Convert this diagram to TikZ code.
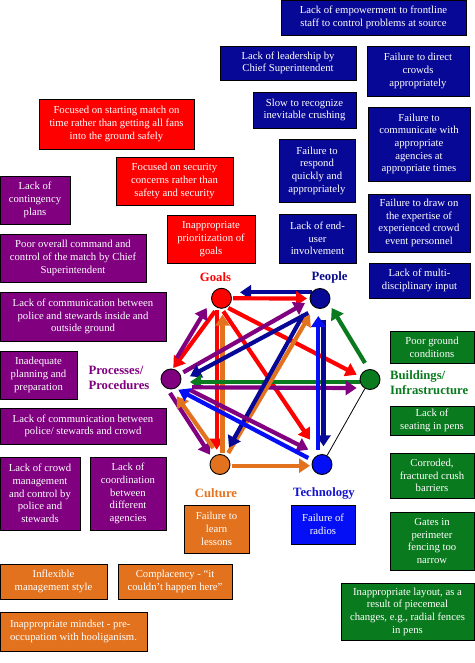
\documentclass[tikz,border=0pt]{standalone}
\usepackage{fontspec}
\setmainfont{Liberation Serif}
\usetikzlibrary{arrows.meta,backgrounds,shadows}
\definecolor{navyc}{RGB}{8,8,150}
\definecolor{redc}{RGB}{255,0,0}
\definecolor{purplec}{RGB}{128,0,128}
\definecolor{orangec}{RGB}{227,114,30}
\definecolor{greenc}{RGB}{10,122,30}
\definecolor{bluec}{RGB}{5,15,245}
\definecolor{peoplec}{RGB}{10,10,140}
\definecolor{techc}{RGB}{20,20,205}
\newcommand\bxnode[7]{\node[bx, fill=#2, minimum width=#5pt, minimum height=#6pt] (#1) at (#3,#4) {#7};}
\begin{document}
\begin{tikzpicture}[x=1pt,y=-1pt,
  bx/.style={draw=black, line width=0.9pt, text=white, align=center, inner sep=1pt,
    font=\fontsize{10.7}{12.7}\selectfont,
    general shadow={fill=black!75, shadow xshift=1.2pt, shadow yshift=-1.2pt}},
  circ/.style={circle, draw=black, line width=0.9pt, minimum size=20pt, inner sep=0pt},
  lab/.style={font=\fontsize{12.7}{15}\selectfont\bfseries, inner sep=0pt},
  ar/.style={line width=4.2pt, -{Triangle[length=11pt,width=14pt]}}]
\useasboundingbox (0,0) rectangle (474,663);

% ---------- navy boxes (People)
\bxnode{n1}{navyc}{373.5}{17.5}{185}{35}{Lack of empowerment to frontline\\staff to control problems at source}
\bxnode{n2}{navyc}{288}{63}{136}{34}{Lack of leadership by\\Chief Superintendent}
\bxnode{n3}{navyc}{418}{71}{102}{50}{Failure to direct\\crowds\\appropriately}
\bxnode{n4}{navyc}{304.5}{110}{103}{36}{Slow to recognize\\inevitable crushing}
\bxnode{n5}{navyc}{419}{144}{102}{74}{Failure to\\communicate with\\appropriate\\agencies at\\appropriate times}
\bxnode{n6}{navyc}{317}{170.5}{76}{63}{Failure to\\respond\\quickly and\\appropriately}
\bxnode{n7}{navyc}{317.5}{238.5}{77}{49}{Lack of end-\\user\\involvement}
\bxnode{n8}{navyc}{419}{223}{102}{58}{Failure to draw on\\the expertise of\\experienced crowd\\event personnel}
\bxnode{n9}{navyc}{419.5}{280.5}{101}{35}{Lack of multi-\\disciplinary input}

% ---------- red boxes (Goals)
\bxnode{r1}{redc}{116.5}{124}{155}{50}{Focused on starting match on\\time rather than getting all fans\\into the ground safely}
\bxnode{r2}{redc}{174.5}{181}{117}{48}{Focused on security\\concerns rather than\\safety and security}
\bxnode{r3}{redc}{211}{239}{88}{48}{Inappropriate\\prioritization of\\goals}

% ---------- purple boxes (Processes)
\bxnode{p1}{purplec}{35}{200}{70}{48}{Lack of\\contingency\\plans}
\bxnode{p2}{purplec}{73}{258}{146}{48}{Poor overall command and\\control of the match by Chief\\Superintendent}
\bxnode{p3}{purplec}{83}{316.5}{166}{49}{Lack of communication between\\police and stewards inside and\\outside ground}
\bxnode{p4}{purplec}{38.5}{375}{77}{48}{Inadequate\\planning and\\preparation}
\bxnode{p5}{purplec}{83}{426}{166}{36}{Lack of communication between\\police/ stewards and crowd}
\bxnode{p6}{purplec}{40}{493.5}{80}{73}{Lack of crowd\\management\\and control by\\police and\\stewards}
\bxnode{p7}{purplec}{128}{493.5}{76}{73}{Lack of\\coordination\\between\\different\\agencies}

% ---------- orange boxes (Culture)
\bxnode{o1}{orangec}{216.5}{529}{65}{48}{Failure to\\learn\\lessons}
\bxnode{o2}{orangec}{53.5}{581.5}{107}{35}{Inflexible\\management style}
\bxnode{o3}{orangec}{175}{581.5}{114}{35}{Complacency - “it\\couldn’t happen here”}
\node[bx, fill=orangec, minimum width=147pt, minimum height=39pt, align=left] (o4) at (73.5,631.5) {Inappropriate mindset - pre-\\occupation with hooliganism.};

% ---------- blue box (Technology)
\bxnode{b1}{bluec}{323}{524.5}{64}{39}{Failure of\\radios}

% ---------- green boxes (Buildings)
\bxnode{g1}{greenc}{432}{347}{84}{32}{Poor ground\\conditions}
\bxnode{g2}{greenc}{432}{420.5}{84}{29}{Lack of\\seating in pens}
\bxnode{g3}{greenc}{432}{475.5}{84}{45}{Corroded,\\fractured crush\\barriers}
\bxnode{g4}{greenc}{432}{541}{84}{58}{Gates in\\perimeter\\fencing too\\narrow}
\bxnode{g5}{greenc}{407.5}{611.5}{133}{57}{Inappropriate layout, as a\\result of piecemeal\\changes, e.g., radial fences\\in pens}

% ---------- category circles
\node[circ, fill=redc] (G) at (221.5,298.3) {};
\node[circ, fill=navyc] (Pe) at (320,298.5) {};
\node[circ, fill=purplec] (Pr) at (171,379) {};
\node[circ, fill=greenc] (B) at (370,379.5) {};
\node[circ, fill=orangec] (C) at (220,464.5) {};
\node[circ, fill=bluec] (T) at (322,464.5) {};

% ---------- category labels
\node[lab, text=redc] (lg) at (215.5,277) {Goals};
\node[lab, text=peoplec] (lpe) at (329.5,277) {People};
\node[lab, text=purplec, align=left, anchor=west] (lpr) at (88.3,378) {Processes/\\Procedures};
\node[lab, text=greenc, align=left, anchor=west] (lb) at (390,383) {Buildings/\\Infrastructure};
\node[lab, text=orangec] (lc) at (216,493) {Culture};
\node[lab, text=techc] (lt) at (324,493) {Technology};

% ---------- connectors
\begin{scope}[on background layer]
\draw[line width=0.8pt, black] (B) -- (T);
\draw[ar,navyc]   ([shift={(-8,-6.2)}]Pe.center) -- ([shift={(18.5,-6)}]G.center);
\draw[ar,redc]    ([shift={(11.5,0)}]G.center) -- ([shift={(-13,0)}]Pe.center);
\draw[ar,redc]    ([shift={(-6.5,13)}]G.center) -- ([shift={(2.3,-11)}]Pr.center);
\draw[ar,purplec] ([shift={(5.7,-21)}]Pr.center) -- ([shift={(-14.8,9.7)}]G.center);
\draw[ar,redc]    ([shift={(-4.8,11.4)}]G.center) -- ([shift={(-3.3,-14.8)}]C.center);
\draw[ar,orangec] ([shift={(2.5,-11.5)}]C.center) -- ([shift={(1,16.4)}]G.center);
\draw[ar,redc]    ([shift={(6.8,9.7)}]G.center) -- ([shift={(-13.3,-4.8)}]B.center);
\draw[ar,redc]    ([shift={(1.8,13)}]G.center) -- ([shift={(-12,-24.8)}]T.center);
\draw[ar,purplec] ([shift={(12.3,-6.7)}]Pr.center) -- ([shift={(-15,4.5)}]Pe.center);
\draw[ar,navyc]   ([shift={(-11.7,14.5)}]Pe.center) -- ([shift={(19,-2.7)}]Pr.center);
\draw[ar,greenc]  ([shift={(-10,2.5)}]B.center) -- ([shift={(19,3)}]Pr.center);
\draw[ar,purplec] ([shift={(21,8.3)}]Pr.center) -- ([shift={(-13.3,8.5)}]B.center);
\draw[ar,greenc]  ([shift={(-5,-16.5)}]B.center) -- ([shift={(11.7,9.5)}]Pe.center);
\draw[ar,orangec] ([shift={(8.3,-11.5)}]C.center) -- ([shift={(-10,16.2)}]Pe.center);
\draw[ar,navyc]   ([shift={(-16.7,16.2)}]Pe.center) -- ([shift={(9,-17)}]C.center);
\draw[ar,navyc]   ([shift={(3.5,21.2)}]Pe.center) -- ([shift={(1.5,-18.2)}]T.center);
\draw[ar,bluec]   ([shift={(-3.7,-14.8)}]T.center) -- ([shift={(-1.7,17.5)}]Pe.center);
\draw[ar,purplec] ([shift={(-1,14)}]Pr.center) -- ([shift={(-10,-9.8)}]C.center);
\draw[ar,orangec] ([shift={(-6.7,-16.5)}]C.center) -- ([shift={(5.7,17.3)}]Pr.center);
\draw[ar,purplec] ([shift={(19,11)}]Pr.center) -- ([shift={(-13.7,-14.8)}]T.center);
\draw[ar,bluec]   ([shift={(-13.7,-6.5)}]T.center) -- ([shift={(7.3,10.7)}]Pr.center);
\draw[ar,orangec] ([shift={(11.7,1.2)}]C.center) -- ([shift={(-12,1.2)}]T.center);
\end{scope}
\end{tikzpicture}
\end{document}
